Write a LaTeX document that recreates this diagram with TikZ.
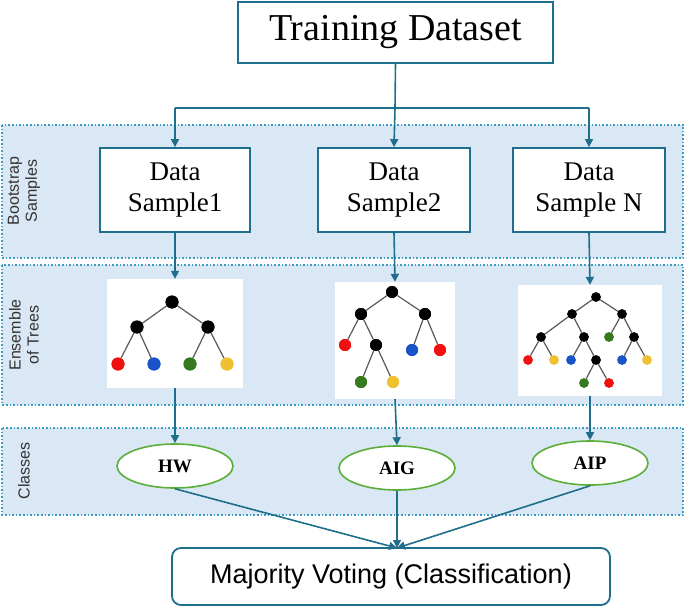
\documentclass[tikz,border=0pt]{standalone}
\usepackage{fontspec}
\setmainfont{Liberation Serif}
\newfontfamily\sans{Liberation Sans}
\usetikzlibrary{arrows.meta,shapes.geometric}
\definecolor{teal}{HTML}{1F6E8C}
\definecolor{band}{HTML}{DAE7F4}
\definecolor{dotb}{HTML}{3A9CC0}
\definecolor{grn}{HTML}{5AAE3A}
\definecolor{tred}{HTML}{F01010}
\definecolor{tblue}{HTML}{1A52C8}
\definecolor{tgreen}{HTML}{357A1E}
\definecolor{tyel}{HTML}{F0C030}
\tikzset{
 band/.style={fill=band,draw=dotb,line width=1.6pt,dotted},
 box/.style={draw=teal,line width=1.8pt,fill=white},
 arr/.style={draw=teal,line width=1.6pt,-{Triangle[length=8pt,width=8pt]}},
 ln/.style={draw=teal,line width=1.6pt},
 lbl/.style={font=\sans\fontsize{16}{18}\selectfont,text=black!80,rotate=90,align=center,inner sep=0pt},
 cls/.style={ellipse,draw=grn,line width=1.6pt,fill=white,minimum width=116pt,minimum height=44pt,font=\bfseries\fontsize{19}{19}\selectfont},
 smp/.style={box,minimum height=84pt,align=center,font=\fontsize{27}{31}\selectfont},
 tn/.style={circle,inner sep=0pt,minimum size=#1},
 e/.style={draw=black!65,line width=1.2pt},
}
\begin{document}
\begin{tikzpicture}[x=1pt,y=-1pt]
\useasboundingbox (0,0) rectangle (685,612);
% bands
\draw[band] (2,125) rectangle (683,258);
\draw[band] (2,265) rectangle (683,405);
\draw[band] (2,428) rectangle (683,515);
\node[lbl] (l1) at (24,191) {Bootstrap\\Samples};
\node[lbl] (l2) at (24,335) {Ensemble\\of Trees};
\node[lbl] (l3) at (24,471) {Classes};
% top
\node[box,minimum width=315pt,minimum height=61pt,font=\fontsize{38}{38}\selectfont] (td) at (395.5,32.5) {Training Dataset};
\node[smp,minimum width=150pt] (s1) at (175,190) {Data\\Sample1};
\node[smp,minimum width=152pt] (s2) at (394,190) {Data\\Sample2};
\node[smp,minimum width=152pt] (s3) at (589,190) {Data\\Sample N};
\coordinate (j) at (395,108);
\coordinate (jl) at (175,108);
\coordinate (jr) at (589,108);
\draw[ln] (td.south) -- (j);
\draw[ln] (jl) -- (jr);
\draw[arr] (jl) -- (s1.north);
\draw[arr] (j) -- (s2.north);
\draw[arr] (jr) -- (s3.north);
% tree boxes
\node[fill=white,minimum width=136pt,minimum height=109pt,inner sep=0pt] (t1) at (175,333.5) {};
\node[fill=white,minimum width=120pt,minimum height=117pt,inner sep=0pt] (t2) at (395,340.5) {};
\node[fill=white,minimum width=144pt,minimum height=111pt,inner sep=0pt] (t3) at (590,340.5) {};
\draw[arr] (s1.south) -- (t1.north);
\draw[arr] (s2.south) -- (t2.north);
\draw[arr] (s3.south) -- (t3.north);
% tree 1
\foreach \n/\x/\y/\c in {a/172/302/black,b/137/327/black,c/208/327/black,d/118/364/tred,f/154/364/tblue,g/190/364/tgreen,h/227/364/tyel}
  \node[tn=13pt,fill=\c] (p\n) at (\x,\y) {};
\draw[e] (pa)--(pb) (pa)--(pc) (pb)--(pd) (pb)--(pf) (pc)--(pg) (pc)--(ph);
\foreach \n/\x/\y/\c in {a/172/302/black,b/137/327/black,c/208/327/black,d/118/364/tred,f/154/364/tblue,g/190/364/tgreen,h/227/364/tyel}
  \node[tn=13pt,fill=\c] at (\x,\y) {};
% tree 2
\foreach \n/\x/\y/\c in {a/392/292/black,b/361/314/black,c/425/314/black,d/345/345/tred,f/376/345/black,g/412/350/tblue,h/440/350/tred,i/361/382/tgreen,k/393/382/tyel}
  \node[tn=12pt,fill=\c] (q\n) at (\x,\y) {};
\draw[e] (qa)--(qb) (qa)--(qc) (qb)--(qd) (qb)--(qf) (qc)--(qg) (qc)--(qh) (qf)--(qi) (qf)--(qk);
\foreach \n/\x/\y/\c in {a/392/292/black,b/361/314/black,c/425/314/black,d/345/345/tred,f/376/345/black,g/412/350/tblue,h/440/350/tred,i/361/382/tgreen,k/393/382/tyel}
  \node[tn=12pt,fill=\c] at (\x,\y) {};
% tree 3
\foreach \n/\x/\y/\c in {a/596/297/black,b/572/314/black,c/622/314/black,d/541/337/black,f/584/337/black,g/609/337/tgreen,h/634/337/black,i/528/360/tred,k/554/360/tyel,m/571/360/tblue,o/596/360/black,p/622/360/tblue,r/647/360/tyel,s/584/383/tgreen,u/609/383/tred}
  \node[tn=9.5pt,fill=\c] (r\n) at (\x,\y) {};
\draw[e] (ra)--(rb) (ra)--(rc) (rb)--(rd) (rb)--(rf) (rc)--(rg) (rc)--(rh) (rd)--(ri) (rd)--(rk) (rf)--(rm) (rf)--(ro) (rh)--(rp) (rh)--(rr) (ro)--(rs) (ro)--(ru);
\foreach \n/\x/\y/\c in {a/596/297/black,b/572/314/black,c/622/314/black,d/541/337/black,f/584/337/black,g/609/337/tgreen,h/634/337/black,i/528/360/tred,k/554/360/tyel,m/571/360/tblue,o/596/360/black,p/622/360/tblue,r/647/360/tyel,s/584/383/tgreen,u/609/383/tred}
  \node[tn=9.5pt,fill=\c] at (\x,\y) {};
% classes
\node[cls] (c1) at (175,466) {HW};
\node[cls] (c2) at (397,468) {AIG};
\node[cls] (c3) at (590,463) {AIP};
\draw[arr] (t1.south) -- (c1.north);
\draw[arr] (t2.south) -- (c2.north);
\draw[arr] (t3.south) -- (c3.north);
% majority
\node[draw=teal,line width=1.8pt,fill=white,rounded corners=9pt,minimum width=438pt,minimum height=57pt,font=\sans\fontsize{27}{27}\selectfont] (mv) at (391,576.5) {Majority Voting (Classification)};
\coordinate (m) at (397,548);
\draw[arr] (c1.south) -- (m);
\draw[arr] (c2.south) -- (m);
\draw[arr] (c3.south) -- (m);
\end{tikzpicture}
\end{document}
